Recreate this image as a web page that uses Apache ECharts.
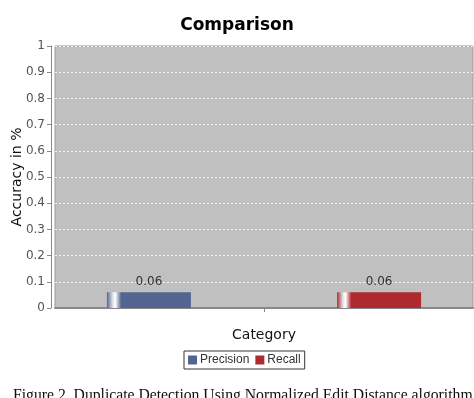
<!DOCTYPE html>
<html>
<head>
<meta charset="utf-8">
<script src="https://cdn.jsdelivr.net/npm/echarts@6/dist/echarts.min.js"></script>
<style>
  html, body { margin: 0; padding: 0; background: #fff; }
  #chart { width: 474px; height: 398px; }
</style>
</head>
<body>
<div id="chart"></div>
<script>
const categories = [''];
const seriesNames = ['Precision', 'Recall'];
const precisionValues = [0.06];
const recallValues = [0.06];
const seriesColors = ['#52648f', '#ad2a2e'];
const yTicks = [0, 0.1, 0.2, 0.3, 0.4, 0.5, 0.6, 0.7, 0.8, 0.9, 1];

const chart = echarts.init(document.getElementById('chart'), null, { renderer: 'canvas' });

// bar fill with the little white glare near the left edge
const glare = (color) => new echarts.graphic.LinearGradient(0, 0, 1, 0, [
  { offset: 0, color: color },
  { offset: 0.07, color: '#dfe3ea' },
  { offset: 0.1, color: '#ffffff' },
  { offset: 0.17, color: color },
  { offset: 1, color: color }
]);

const makeSeries = (name, values, color) => ({
  name: name,
  type: 'bar',
  data: values,
  barWidth: 84,
  barGap: '174%',
  itemStyle: { color: glare(color) },
  label: {
    show: true,
    position: 'top',
    distance: 4,
    color: '#333',
    fontFamily: 'DejaVu Sans',
    fontSize: 12,
    formatter: (p) => p.value.toFixed(2)
  }
});

const option = {
  backgroundColor: '#fff',
  animation: false,
  title: {
    text: 'Comparison',
    left: 'center',
    top: 12,
    textStyle: { fontFamily: 'DejaVu Sans', fontWeight: 'bold', fontSize: 17, color: '#000' }
  },
  legend: {
    data: seriesNames.map((n, i) => ({ name: n, itemStyle: { color: seriesColors[i] } })),
    left: 184,
    top: 351,
    orient: 'horizontal',
    padding: [3, 4, 3, 4],
    itemWidth: 9,
    itemHeight: 9,
    itemGap: 6,
    icon: 'rect',
    borderColor: '#333',
    borderWidth: 1,
    backgroundColor: '#fff',
    textStyle: { fontFamily: 'Liberation Sans', fontSize: 12, color: '#333', padding: [0, 0, 0, -2] }
  },
  grid: {
    left: 55,
    right: 1,
    top: 46,
    bottom: 90,
    show: true,
    backgroundColor: '#c0c0c0',
    borderColor: '#9a9a9a',
    borderWidth: 1,
    containLabel: false,
    outerBoundsMode: 'none'
  },
  xAxis: {
    type: 'category',
    data: categories,
    offset: 4,
    name: 'Category',
    nameLocation: 'middle',
    nameGap: 16,
    nameMoveOverlap: false,
    nameTextStyle: { fontFamily: 'DejaVu Sans', fontSize: 14, color: '#111' },
    axisLine: { show: true, lineStyle: { color: '#888', width: 2 } },
    axisTick: { show: true, length: 4, alignWithLabel: true, lineStyle: { color: '#888' } },
    axisLabel: { show: false },
    splitLine: { show: false }
  },
  yAxis: {
    type: 'value',
    min: yTicks[0],
    max: yTicks[yTicks.length - 1],
    interval: 0.1,
    offset: 4,
    name: 'Accuracy in %',
    nameLocation: 'middle',
    nameGap: 27,
    nameMoveOverlap: false,
    nameTextStyle: { fontFamily: 'DejaVu Sans', fontSize: 14, color: '#111' },
    axisLine: { show: true, lineStyle: { color: '#888', width: 1 } },
    axisTick: { show: true, length: 4, lineStyle: { color: '#888' } },
    axisLabel: {
      fontFamily: 'DejaVu Sans',
      fontSize: 12,
      color: '#555',
      margin: 6,
      formatter: (v) => String(Math.round(v * 10) / 10)
    },
    splitLine: { show: true, lineStyle: { color: '#ffffff', type: [2, 2], width: 1, opacity: 0.8 } }
  },
  graphic: [
    {
      type: 'text',
      left: 13,
      top: 388,
      style: {
        text: 'Figure 2. Duplicate Detection Using Normalized Edit Distance algorithm',
        font: '15.7px "Liberation Serif"',
        fill: '#111'
      }
    }
  ],
  series: [
    makeSeries(seriesNames[0], precisionValues, seriesColors[0]),
    makeSeries(seriesNames[1], recallValues, seriesColors[1])
  ]
};

chart.setOption(option);
</script>
</body>
</html>
